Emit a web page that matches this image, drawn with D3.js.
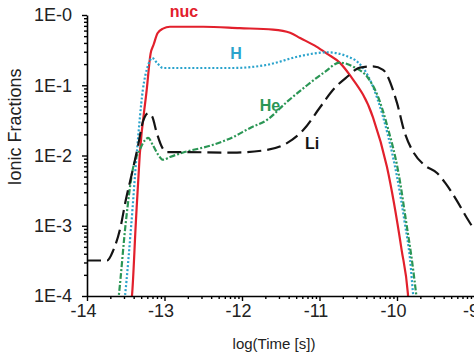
<!DOCTYPE html>
<html>
<head>
<meta charset="utf-8">
<script src="https://cdn.jsdelivr.net/npm/d3@7"></script>
<style>
  html, body { margin: 0; padding: 0; background: #fff; }
  svg { display: block; font-family: "Liberation Sans", Arial, sans-serif; }
</style>
</head>
<body>
<div id="chart"></div>
<script>
// data: log10(time) and ionic fraction
const nucTime = [-13.43, -13.42, -13.37, -13.32, -13.23, -13.18, -13.14, -13.09, -13.02, -12.93, -12.5, -12.03, -11.6, -11.38, -11.25, -11.04, -10.90, -10.74, -10.61, -10.31, -10.13, -9.94, -9.86, -9.85]
const nucFrac = [8e-5, 1e-4, 1.1e-3, 1e-2, 8.5e-2, 0.28, 0.38, 0.55, 0.64, 0.68, 0.68, 0.65, 0.62, 0.56, 0.47, 0.355, 0.28, 0.21, 0.14, 3.5e-2, 6.9e-3, 4.5e-4, 1.1e-4, 8e-5]

const hTime = [-13.52, -13.51, -13.43, -13.36, -13.28, -13.21, -13.16, -13.10, -13.02, -12.76, -12.12, -11.68, -11.25, -10.90, -10.65, -10.50, -10.38, -10.25, -10.12, -10.00, -9.90, -9.83, -9.79, -9.78]
const hFrac = [8e-5, 1e-4, 1e-3, 1e-2, 8.5e-2, 0.195, 0.245, 0.21, 0.176, 0.176, 0.176, 0.195, 0.26, 0.295, 0.26, 0.21, 0.14, 6.3e-2, 2e-2, 5e-3, 1.1e-3, 3.2e-4, 1e-4, 8e-5]

const heTime = [-13.60, -13.59, -13.50, -13.41, -13.32, -13.25, -13.21, -13.15, -13.08, -13.02, -12.93, -12.74, -12.41, -12.12, -11.90, -11.68, -11.42, -11.16, -10.93, -10.74, -10.55, -10.38, -10.25, -10.12, -9.98, -9.88, -9.80, -9.75, -9.74]
const heFrac = [8e-5, 1e-4, 1.1e-3, 6.3e-3, 1.2e-2, 1.66e-2, 1.78e-2, 1.4e-2, 1.02e-2, 8.7e-3, 9.5e-3, 1.12e-2, 1.38e-2, 1.82e-2, 2.45e-2, 3.2e-2, 5.8e-2, 0.10, 0.155, 0.21, 0.18, 0.13, 7.1e-2, 2.5e-2, 5.6e-3, 1.1e-3, 2.8e-4, 1e-4, 8e-5]

const liTime = [-14, -13.74, -13.66, -13.57, -13.50, -13.41, -13.34, -13.28, -13.21, -13.16, -13.10, -13.03, -12.97, -12.80, -12.12, -11.68, -11.42, -11.21, -10.99, -10.83, -10.65, -10.48, -10.31, -10.18, -10.0, -9.90, -9.79, -9.64, -9.48, -9.38, -9.23, -9.10, -9.0]
const liFrac = [3.2e-4, 3.2e-4, 4.5e-4, 9.3e-4, 2.3e-3, 6.2e-3, 1.4e-2, 3.0e-2, 4.0e-2, 3.6e-2, 2.1e-2, 1.3e-2, 1.12e-2, 1.12e-2, 1.1e-2, 1.2e-2, 1.5e-2, 2.3e-2, 4.9e-2, 8.5e-2, 0.13, 0.178, 0.186, 0.166, 5.6e-2, 2.1e-2, 1.12e-2, 7.2e-3, 5.6e-3, 4.1e-3, 2.3e-3, 1.3e-3, 8.7e-4]

const xTicks = [-14, -13, -12, -11, -10, -9]
const yTicks = [1e-4, 1e-3, 1e-2, 1e-1, 1]
const yTickLabels = ["1E-4", "1E-3", "1E-2", "1E-1", "1E-0"]

const series = [
    {name: "nuc", time: nucTime, frac: nucFrac, color: "#e2202c", dash: null, lx: 184, ly: 17},
    {name: "H", time: hTime, frac: hFrac, color: "#2aa3cc", dash: "2,2", lx: 236, ly: 59},
    {name: "He", time: heTime, frac: heFrac, color: "#2b9655", dash: "6,2,2,2", lx: 270, ly: 111},
    {name: "Li", time: liTime, frac: liFrac, color: "#141414", dash: "14,6", lx: 312, ly: 149}
]

function drawChart() {
    // 1. svg
    const width = 474
    const height = 354
    const svg = d3.select("#chart").append("svg")
                  .attr("width", width)
                  .attr("height", height)
    const left = 87, right = 474.5, top = 15, bottom = 296

    // 2. scales
    const xScale = d3.scaleLinear()
                     .domain([-14, -9])
                     .range([left, right])
    const yScale = d3.scaleLog()
                     .domain([1e-4, 1])
                     .range([bottom, top])

    // 3. clip to plot area
    svg.append("clipPath")
       .attr("id", "plot-clip")
       .append("rect")
       .attr("x", left)
       .attr("y", top)
       .attr("width", right - left)
       .attr("height", bottom - top)

    // 4. lines
    const line = d3.line()
                   .x(d => xScale(d[0]))
                   .y(d => yScale(d[1]))
                   .curve(d3.curveMonotoneX)
    const plot = svg.append("g").attr("clip-path", "url(#plot-clip)")
    series.forEach(s => {
        plot.append("path")
            .datum(s.time.map((t, i) => [t, s.frac[i]]))
            .attr("d", line)
            .attr("fill", "none")
            .attr("stroke", s.color)
            .attr("stroke-width", 2.2)
            .attr("stroke-dasharray", s.dash)
    })

    // 5. axes
    const minorX = []
    xTicks.slice(0, -1).forEach(t => d3.range(2, 10).forEach(k => minorX.push(t + Math.log10(k))))
    const minorY = []
    yTicks.slice(0, -1).forEach(t => d3.range(2, 10).forEach(k => minorY.push(t * k)))

    const xAxis = svg.append("g")
                     .attr("class", "x-axis")
                     .attr("transform", `translate(0, ${bottom})`)
                     .call(d3.axisBottom(xScale).tickValues(xTicks).tickFormat(d => String(d)).tickSize(5).tickSizeOuter(0))
    svg.append("g")
       .attr("transform", `translate(0, ${bottom})`)
       .call(d3.axisBottom(xScale).tickValues(minorX).tickFormat("").tickSize(3).tickSizeOuter(0))
       .select(".domain").remove()
    xAxis.selectAll("text")
         .attr("font-size", "18px")
         .attr("fill", "#222")
         .attr("dx", "-4")
         .attr("y", 8)

    const yAxis = svg.append("g")
                     .attr("class", "y-axis")
                     .attr("transform", `translate(${left}, 0)`)
                     .call(d3.axisLeft(yScale).tickValues(yTicks).tickFormat((d, i) => yTickLabels[i]).tickSize(5).tickSizeOuter(0))
    svg.append("g")
       .attr("transform", `translate(${left}, 0)`)
       .call(d3.axisLeft(yScale).tickValues(minorY).tickFormat("").tickSize(3).tickSizeOuter(0))
       .select(".domain").remove()
    yAxis.selectAll("text")
         .attr("font-size", "18px")
         .attr("fill", "#222")
         .attr("x", -15)

    svg.selectAll(".domain")
       .attr("stroke-width", 1.6)
    svg.selectAll(".tick line")
       .attr("stroke-width", 1.4)
    svg.selectAll(".x-axis, .y-axis")
       .attr("font-family", null)

    // 6. titles
    svg.append("text")
       .attr("x", 274)
       .attr("y", 349)
       .attr("text-anchor", "middle")
       .attr("font-size", "15px")
       .attr("fill", "#222")
       .text("log(Time [s])")
    svg.append("text")
       .attr("transform", "translate(21, 127) rotate(-90)")
       .attr("text-anchor", "middle")
       .attr("font-size", "18px")
       .attr("fill", "#222")
       .text("Ionic Fractions")

    // 7. series labels
    svg.selectAll(".series-label")
       .data(series)
       .join("text")
       .attr("class", "series-label")
       .attr("x", d => d.lx)
       .attr("y", d => d.ly)
       .attr("text-anchor", "middle")
       .attr("font-size", "16px")
       .attr("font-weight", "bold")
       .attr("fill", d => d.color)
       .text(d => d.name)
}

drawChart()
</script>
</body>
</html>
